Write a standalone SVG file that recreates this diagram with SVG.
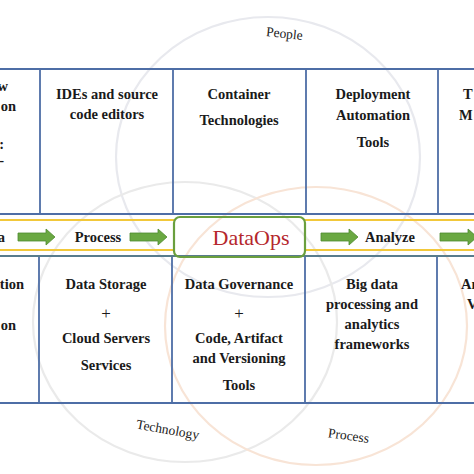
<svg xmlns="http://www.w3.org/2000/svg" width="474" height="474" viewBox="0 0 474 474">
<style>
.t{font-family:"Liberation Serif","DejaVu Serif",serif;font-size:14.5px;font-weight:bold;fill:#1a1a1a;text-anchor:middle}
.p{font-family:"Liberation Serif","DejaVu Serif",serif;font-size:17px;fill:#1a1a1a;text-anchor:middle}
.e{font-family:"Liberation Serif","DejaVu Serif",serif;font-size:13.5px;fill:#222;text-anchor:middle}
.grid{stroke:#4e6ea6;stroke-width:1.8;fill:none}
.yel{stroke:#f2c83a;stroke-width:2;fill:none}
.arr{fill:#6aa842;stroke:#4f8a30;stroke-width:0.8}
.venn{fill:none;stroke-width:2.2}
</style>
<defs>
<path id="arrow" d="M0,-4 L28,-4 L28,-8 L37,0 L28,8 L28,4 L0,4 Z"/>
</defs>
<rect width="474" height="474" fill="#ffffff"/>
<g id="venn">
<ellipse class="venn" cx="268" cy="157" rx="152" ry="140" stroke="#e8e9ee"/>
<ellipse class="venn" cx="185" cy="322" rx="152" ry="140" stroke="#eaeaea"/>
<ellipse class="venn" cx="316" cy="326" rx="151" ry="139" stroke="#f8e4d6"/>
<text class="e" transform="translate(284,38) rotate(6)">People</text>
<text class="e" transform="translate(167,434) rotate(10)">Technology</text>
<text class="e" transform="translate(348,440) rotate(8)">Process</text>
</g>
<g id="connectors">
<path class="grid" d="M0,69 H474 M40,69 V214 M173,69 V214 M306,69 V214 M438,69 V214 M0,214 H474"/>
<path class="yel" d="M0,220 H174 M305,220 H474 M0,250 H174 M305,250 H474"/>
<path d="M0,256 H474" stroke="#587c8c" stroke-width="2"/>
<path class="grid" d="M39,257 V403 M172,257 V403 M305,257 V403 M437,257 V403 M0,403 H474"/>
<use href="#arrow" class="arr" x="18" y="237"/>
<use href="#arrow" class="arr" x="130" y="237"/>
<use href="#arrow" class="arr" x="321" y="237"/>
<use href="#arrow" class="arr" x="440" y="237"/>
</g>
<g id="top-col1">
<text class="t" x="8" y="91" style="text-anchor:end">w</text>
<text class="t" x="16" y="111" style="text-anchor:end">on</text>
<text class="t" x="4" y="149" style="text-anchor:end">:</text>
<text class="t" x="4" y="165" style="text-anchor:end">-</text>
</g>
<g id="top-col2">
<text class="t" x="107" y="99">IDEs and source</text>
<text class="t" x="107" y="119">code editors</text>
</g>
<g id="top-col3">
<text class="t" x="239" y="99">Container</text>
<text class="t" x="239" y="125">Technologies</text>
</g>
<g id="top-col4">
<text class="t" x="373" y="99">Deployment</text>
<text class="t" x="373" y="120">Automation</text>
<text class="t" x="373" y="147">Tools</text>
</g>
<g id="top-col5">
<text class="t" x="463" y="99" style="text-anchor:start">T</text>
<text class="t" x="459" y="120" style="text-anchor:start">M</text>
</g>
<g id="flow">
<text class="t" x="5" y="242" style="text-anchor:end">a</text>
<text class="t" x="98" y="242">Process</text>
<text class="t" x="390" y="242">Analyze</text>
</g>
<g id="dataops">
<rect x="174" y="217" width="131" height="40" rx="6" fill="none" stroke="#6a9f3e" stroke-width="2.2"/>
<text x="251" y="245" style="font-family:'Liberation Serif','DejaVu Serif',serif;font-size:22px;fill:#b5272d;text-anchor:middle">DataOps</text>
</g>
<g id="bot-col1">
<text class="t" x="24" y="289" style="text-anchor:end">tion</text>
<text class="t" x="16" y="330" style="text-anchor:end">on</text>
</g>
<g id="bot-col2">
<text class="t" x="106" y="289">Data Storage</text>
<text class="p" x="106" y="319">+</text>
<text class="t" x="106" y="343">Cloud Servers</text>
<text class="t" x="106" y="370">Services</text>
</g>
<g id="bot-col3">
<text class="t" x="239" y="289">Data Governance</text>
<text class="p" x="239" y="319">+</text>
<text class="t" x="239" y="343">Code, Artifact</text>
<text class="t" x="239" y="363">and Versioning</text>
<text class="t" x="239" y="390">Tools</text>
</g>
<g id="bot-col4">
<text class="t" x="372" y="289">Big data</text>
<text class="t" x="372" y="309">processing and</text>
<text class="t" x="372" y="329">analytics</text>
<text class="t" x="372" y="349">frameworks</text>
</g>
<g id="bot-col5">
<text class="t" x="461" y="289" style="text-anchor:start">An</text>
<text class="t" x="467" y="309" style="text-anchor:start">V</text>
</g>
</svg>
